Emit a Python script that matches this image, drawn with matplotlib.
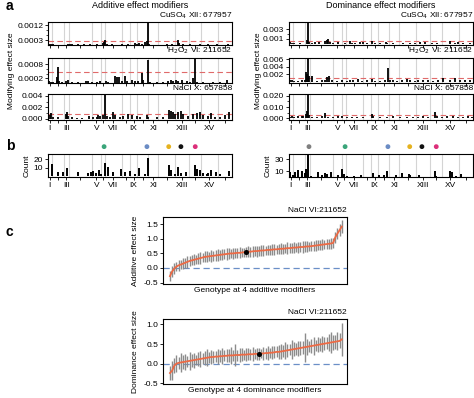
import numpy as np
import matplotlib.pyplot as plt

plt.rcParams['font.family'] = ['Liberation Sans', 'DejaVu Sans']
plt.rcParams['font.size'] = 6
plt.rcParams['axes.linewidth'] = 0.8

# yeast chromosome lengths (kb)
CHR_LEN = [230, 813, 317, 1532, 577, 270, 1091, 563, 440, 746, 667, 1078, 924, 784, 1091, 948]
CHR_NAMES = ['I', 'II', 'III', 'IV', 'V', 'VI', 'VII', 'VIII', 'IX', 'X',
             'XI', 'XII', 'XIII', 'XIV', 'XV', 'XVI']

# ---- panel a: modifier effect sizes along the genome (position in Mb) ----
add_cuso4_pos = [0.09, 0.17, 0.35, 0.90, 1.33, 1.44, 1.55, 1.99, 2.36, 2.76, 3.19, 3.41, 3.59, 3.67,
                 3.74, 3.85, 4.18, 4.51, 4.83, 5.27, 5.71, 5.82, 5.99, 6.15, 6.39, 6.47, 6.54, 6.65,
                 6.80, 7.35, 7.79, 8.11, 8.51, 8.62, 8.88, 9.32, 9.97, 10.52, 11.07, 11.50, 11.83]
add_cuso4_h = [0.00008, 0.00005, 0.00004, 0.00003, 0.00008, 0.00006, 0.00004, 0.00005, 0.00007,
               0.00004, 0.00004, 0.00003, 0.00012, 0.00018, 0.00032, 0.00008, 0.00004, 0.00003,
               0.00005, 0.00004, 0.00010, 0.00007, 0.00012, 0.00004, 0.00018, 0.00025, 0.00135,
               0.00004, 0.00003, 0.00003, 0.00004, 0.00005, 0.00030, 0.00010, 0.00004, 0.00005,
               0.00004, 0.00005, 0.00004, 0.00003, 0.00005]

add_h2o2_pos = [0.09, 0.17, 0.35, 0.57, 0.61, 0.68, 0.74, 0.90, 1.18, 1.33, 1.55, 1.99, 2.49, 2.65,
                2.86, 3.19, 3.41, 3.81, 3.96, 4.40, 4.51, 4.68, 4.83, 5.05, 5.16, 5.49, 5.71, 5.93,
                6.19, 6.25, 6.54, 6.69, 7.13, 7.57, 7.90, 8.05, 8.22, 8.40, 8.55, 8.77, 9.10, 9.32,
                9.54, 9.64, 9.75, 10.19, 10.85, 11.28, 11.72]
add_h2o2_h = [0.00010, 0.00005, 0.00004, 0.00010, 0.00025, 0.00070, 0.00010, 0.00003, 0.00010,
              0.00015, 0.00005, 0.00004, 0.00010, 0.00008, 0.00006, 0.00005, 0.00010, 0.00010,
              0.00006, 0.00030, 0.00025, 0.00028, 0.00010, 0.00030, 0.00008, 0.00015, 0.00010,
              0.00010, 0.00042, 0.00015, 0.00098, 0.00005, 0.00005, 0.00004, 0.00010, 0.00012,
              0.00010, 0.00015, 0.00010, 0.00012, 0.00010, 0.00005, 0.00020, 0.00108, 0.00005,
              0.00004, 0.00006, 0.00004, 0.00012]

add_nacl_pos = [0.13, 0.20, 0.31, 0.68, 1.18, 1.22, 1.33, 1.55, 1.88, 2.21, 2.71, 2.93, 3.19, 3.30,
                3.41, 3.63, 3.74, 3.85, 4.07, 4.24, 4.40, 4.72, 4.94, 5.27, 5.49, 5.82, 6.04, 6.47,
                6.58, 7.13, 7.57, 7.92, 8.05, 8.18, 8.33, 8.55, 8.70, 8.88, 9.21, 9.49, 9.75, 9.97,
                10.19, 10.52, 10.69, 10.96, 11.28, 11.61, 11.88]
add_nacl_h = [0.0006, 0.0010, 0.0004, 0.0003, 0.0008, 0.0012, 0.0005, 0.0003, 0.0002, 0.0002,
              0.0005, 0.0003, 0.0004, 0.0006, 0.0005, 0.0006, 0.0043, 0.0005, 0.0003, 0.0011,
              0.0006, 0.0004, 0.0005, 0.0008, 0.0006, 0.0005, 0.0003, 0.0007, 0.0004, 0.0003,
              0.0004, 0.0015, 0.0013, 0.0011, 0.0009, 0.0011, 0.0014, 0.0008, 0.0005, 0.0008,
              0.0010, 0.0011, 0.0006, 0.0005, 0.0010, 0.0004, 0.0003, 0.0007, 0.0011]

dom_cuso4_pos = [0.07, 0.17, 0.33, 0.72, 1.16, 1.22, 1.33, 1.49, 1.71, 1.99, 2.36, 2.47, 2.58, 2.69,
                 2.91, 3.24, 3.67, 4.00, 4.11, 4.33, 4.66, 4.88, 5.10, 5.42, 5.64, 5.97, 6.36, 6.45,
                 6.85, 7.50, 7.94, 8.27, 8.59, 8.92, 9.36, 9.69, 10.56, 10.89, 11.11, 11.44, 11.88]
dom_cuso4_h = [0.0003, 0.0002, 0.0001, 0.0002, 0.0008, 0.0045, 0.0003, 0.0002, 0.0003, 0.0004,
               0.0005, 0.0008, 0.0010, 0.0003, 0.0002, 0.0003, 0.0002, 0.0005, 0.0002, 0.0002,
               0.0003, 0.0004, 0.0002, 0.0005, 0.0002, 0.0002, 0.0004, 0.0002, 0.0002, 0.0002,
               0.0002, 0.0002, 0.0003, 0.0003, 0.0002, 0.0002, 0.0005, 0.0002, 0.0003, 0.0002,
               0.0002]

dom_h2o2_pos = [0.07, 0.17, 0.33, 0.61, 0.83, 1.05, 1.12, 1.16, 1.22, 1.33, 1.49, 1.82, 2.14, 2.36,
                2.52, 2.65, 2.80, 3.13, 3.46, 3.78, 4.00, 4.22, 4.55, 4.77, 5.10, 5.42, 5.64, 5.97,
                6.30, 6.47, 6.63, 6.85, 7.06, 7.39, 7.72, 7.94, 8.27, 8.49, 8.81, 9.14, 9.47, 9.80,
                10.13, 10.56, 10.89, 11.22, 11.55, 11.88]
dom_h2o2_h = [0.0006, 0.0004, 0.0003, 0.0003, 0.0005, 0.0006, 0.0025, 0.0022, 0.0063, 0.0015,
              0.0015, 0.0003, 0.0004, 0.0005, 0.0013, 0.0015, 0.0006, 0.0003, 0.0004, 0.0003,
              0.0006, 0.0005, 0.0008, 0.0003, 0.0004, 0.0008, 0.0003, 0.0003, 0.0004, 0.0036,
              0.0004, 0.0006, 0.0003, 0.0005, 0.0007, 0.0004, 0.0003, 0.0005, 0.0006, 0.0004,
              0.0003, 0.0005, 0.0009, 0.0006, 0.0011, 0.0004, 0.0006, 0.0004]

dom_nacl_pos = [0.07, 0.17, 0.33, 0.61, 0.83, 0.94, 1.12, 1.16, 1.22, 1.33, 1.49, 1.82, 2.14, 2.36,
                2.58, 2.91, 3.24, 3.46, 3.78, 4.11, 4.44, 4.88, 5.42, 5.53, 5.97, 6.41, 6.85, 7.28,
                7.72, 8.16, 8.49, 8.81, 9.14, 9.58, 9.69, 10.02, 10.34, 10.78, 11.11, 11.44, 11.77,
                11.98]
dom_nacl_h = [0.0010, 0.0015, 0.0010, 0.0020, 0.0015, 0.0020, 0.0040, 0.0060, 0.0218, 0.0030,
              0.0010, 0.0010, 0.0015, 0.0050, 0.0010, 0.0008, 0.0015, 0.0020, 0.0010, 0.0008,
              0.0012, 0.0008, 0.0040, 0.0015, 0.0008, 0.0012, 0.0015, 0.0008, 0.0012, 0.0008,
              0.0010, 0.0015, 0.0010, 0.0055, 0.0020, 0.0010, 0.0015, 0.0020, 0.0010, 0.0012,
              0.0018, 0.0008]

thr_add = [0.00026, 0.00047, 0.00077]
thr_dom = [0.00056, 0.0011, 0.0024]

titles = ['CuSO$_4$ XII: 677957', 'H$_2$O$_2$ VI: 211652', 'NaCl X: 657858']

# ---- panel b: modifier counts ----
cnt_add_pos = [0.24, 0.68, 1.01, 1.22, 1.99, 2.65, 2.80, 2.93, 3.15, 3.32, 3.48, 3.74, 3.91, 4.24,
               4.77, 5.05, 5.38, 5.71, 5.99, 6.37, 6.54, 7.94, 8.07, 8.35, 8.55, 8.73, 9.05, 9.62,
               9.80, 9.97, 10.15, 10.41, 10.52, 10.69, 11.02, 11.28, 11.90]
cnt_add = [14, 5, 4, 9, 5, 3, 5, 6, 3, 7, 2, 16, 11, 4, 8, 5, 6, 2, 9, 2, 22, 13, 7, 2, 11, 3, 4,
           13, 8, 7, 3, 2, 3, 7, 5, 2, 6]
cnt_dom_pos = [0.09, 0.26, 0.42, 0.59, 0.88, 1.03, 1.14, 1.25, 1.42, 1.90, 2.19, 2.34, 2.52, 2.74,
               3.21, 3.46, 3.61, 3.81, 4.26, 4.70, 5.51, 5.90, 6.21, 6.46, 7.05, 7.44, 7.87, 7.96,
               8.53, 9.56, 9.67, 10.54, 10.72, 10.98, 11.26]
cnt_dom = [8, 3, 8, 12, 11, 7, 13, 37, 2, 8, 3, 6, 5, 8, 3, 13, 5, 2, 2, 3, 7, 3, 4, 10, 3, 6, 5,
           3, 3, 10, 2, 10, 9, 2, 5]

# QTL positions (Mb) marked above panel b
qtl_add_pos = [3.68, 6.49, 7.92, 8.72, 9.66]
qtl_add_col = ['#3aa57a', '#6b8cc4', '#e5b21f', '#111111', '#dc2f7a']
qtl_dom_pos = [1.31, 3.68, 6.49, 7.92, 8.72, 9.66]
qtl_dom_col = ['#7f7f7f', '#3aa57a', '#6b8cc4', '#e5b21f', '#111111', '#dc2f7a']

# ---- panel c: effect of NaCl VI:211652 by modifier genotype ----
add_mean = [-0.28, -0.12, -0.02, 0.05, 0.09, 0.12, 0.15, 0.18, 0.21, 0.24,
            0.26, 0.28, 0.30, 0.32, 0.34, 0.36, 0.38, 0.39, 0.40, 0.41,
            0.42, 0.43, 0.44, 0.45, 0.46, 0.47, 0.48, 0.49, 0.50, 0.50,
            0.51, 0.52, 0.52, 0.53, 0.54, 0.55, 0.56, 0.56, 0.57, 0.58,
            0.58, 0.59, 0.60, 0.60, 0.61, 0.62, 0.62, 0.63, 0.64, 0.64,
            0.65, 0.66, 0.66, 0.67, 0.68, 0.68, 0.69, 0.70, 0.70, 0.71,
            0.72, 0.72, 0.73, 0.74, 0.74, 0.75, 0.76, 0.77, 0.78, 0.79,
            0.80, 0.81, 0.82, 0.83, 0.84, 0.86, 1.05, 1.18, 1.30, 1.42]
add_err = [0.18, 0.20, 0.19, 0.17, 0.18, 0.16, 0.19, 0.17, 0.20, 0.18,
           0.17, 0.19, 0.16, 0.18, 0.20, 0.17, 0.19, 0.18, 0.16, 0.19,
           0.17, 0.18, 0.20, 0.16, 0.18, 0.17, 0.19, 0.18, 0.16, 0.20,
           0.17, 0.18, 0.19, 0.17, 0.16, 0.18, 0.20, 0.17, 0.18, 0.16,
           0.19, 0.17, 0.18, 0.20, 0.16, 0.18, 0.17, 0.19, 0.18, 0.16,
           0.17, 0.19, 0.18, 0.16, 0.20, 0.17, 0.18, 0.19, 0.16, 0.18,
           0.17, 0.19, 0.18, 0.20, 0.16, 0.18, 0.17, 0.19, 0.18, 0.17,
           0.19, 0.16, 0.18, 0.17, 0.20, 0.18, 0.19, 0.20, 0.21, 0.22]
add_ref = 35

dom_mean = [-0.24, -0.18, -0.05, 0.00, 0.02, 0.03, 0.04, 0.05, 0.06, 0.07,
            0.08, 0.09, 0.10, 0.11, 0.12, 0.13, 0.14, 0.15, 0.16, 0.17,
            0.17, 0.18, 0.18, 0.19, 0.19, 0.20, 0.20, 0.21, 0.21, 0.21,
            0.22, 0.22, 0.22, 0.23, 0.23, 0.23, 0.24, 0.24, 0.24, 0.25,
            0.25, 0.25, 0.26, 0.26, 0.27, 0.27, 0.28, 0.28, 0.29, 0.30,
            0.30, 0.31, 0.32, 0.33, 0.34, 0.35, 0.36, 0.37, 0.38, 0.39,
            0.40, 0.41, 0.42, 0.43, 0.44, 0.45, 0.46, 0.47, 0.48, 0.49,
            0.50, 0.51, 0.52, 0.53, 0.54, 0.55, 0.56, 0.57, 0.58, 0.62]
dom_err = [0.17, 0.25, 0.20, 0.22, 0.15, 0.24, 0.17, 0.20, 0.14, 0.23,
           0.16, 0.19, 0.13, 0.18, 0.20, 0.15, 0.17, 0.22, 0.14, 0.18,
           0.16, 0.13, 0.19, 0.15, 0.21, 0.14, 0.17, 0.16, 0.22, 0.15,
           0.27, 0.14, 0.18, 0.16, 0.13, 0.17, 0.15, 0.14, 0.18, 0.13,
           0.16, 0.15, 0.12, 0.17, 0.14, 0.18, 0.13, 0.16, 0.15, 0.14,
           0.17, 0.19, 0.15, 0.22, 0.16, 0.14, 0.25, 0.18, 0.15, 0.20,
           0.17, 0.16, 0.37, 0.21, 0.15, 0.18, 0.23, 0.14, 0.19, 0.16,
           0.20, 0.17, 0.15, 0.22, 0.28, 0.19, 0.18, 0.23, 0.19, 0.42]
dom_ref = 41

W, H = 474, 398
fig = plt.figure(figsize=(W / 100, H / 100), dpi=100)


def px_axes(x0, y0, x1, y1):
    return fig.add_axes([x0 / W, 1 - y1 / H, (x1 - x0) / W, (y1 - y0) / H])


bounds = np.cumsum([0] + CHR_LEN) / 1000.0
centers = (bounds[:-1] + bounds[1:]) / 2
genome_end = bounds[-1]
xlabels = [n if i % 2 == 0 else '' for i, n in enumerate(CHR_NAMES)]


def genome_axes(ax, show_labels):
    ax.set_xlim(0, genome_end)
    for b in bounds[1:-1]:
        ax.axvline(b, color='#d4d4d4', lw=0.8, zorder=0)
    ax.set_xticks(centers)
    ax.set_xticklabels(xlabels if show_labels else [])
    ax.tick_params(length=2, width=0.6, pad=1.5, labelsize=6)
    ax.tick_params(which='minor', length=1.2, width=0.5)


# ---- a ----
rows = [(22, 45), (58, 83), (94, 120)]
add_data = [(add_cuso4_pos, add_cuso4_h), (add_h2o2_pos, add_h2o2_h), (add_nacl_pos, add_nacl_h)]
dom_data = [(dom_cuso4_pos, dom_cuso4_h), (dom_h2o2_pos, dom_h2o2_h), (dom_nacl_pos, dom_nacl_h)]
add_ylim = [(0, 0.0014), (0, 0.00108), (-0.0002, 0.0043)]
dom_ylim = [(-0.0003, 0.0045), (-0.0003, 0.0063), (-0.0018, 0.0218)]
add_ticks = [([0.0003, 0.0012], ['0.0003', '0.0012'], [0.0006, 0.0009]),
             ([0.0002, 0.0008], ['0.0002', '0.0008'], [0.0004, 0.0006]),
             ([0.0, 0.002, 0.004], ['0.000', '0.002', '0.004'], [0.001, 0.003])]
dom_ticks = [([0.001, 0.003], ['0.001', '0.003'], [0.002]),
             ([0.002, 0.004, 0.006], ['0.002', '0.004', '0.006'], []),
             ([0.0, 0.01, 0.02], ['0.000', '0.010', '0.020'], [0.005, 0.015])]

for x0, x1, data, ylims, ticks, thr in [
        (48, 232, add_data, add_ylim, add_ticks, thr_add),
        (289, 473, dom_data, dom_ylim, dom_ticks, thr_dom)]:
    for r, (y0, y1) in enumerate(rows):
        ax = px_axes(x0, y0, x1, y1)
        pos, h = data[r]
        ax.vlines(pos, 0, h, color='black', lw=1.3, zorder=3)
        ax.axhline(thr[r], color='#e06a6a', lw=0.8, ls=(0, (5, 3)), zorder=2)
        genome_axes(ax, r == 2)
        ax.set_ylim(*ylims[r])
        ax.set_yticks(ticks[r][0])
        ax.set_yticklabels(ticks[r][1])
        ax.set_yticks(ticks[r][2], minor=True)
        ax.text(1.0, 1.06, titles[r], transform=ax.transAxes, ha='right', va='bottom', fontsize=6)

fig.text(140 / W, 1 - 6 / H, 'Additive effect modifiers', ha='center', va='center', fontsize=6.5)
fig.text(381 / W, 1 - 6 / H, 'Dominance effect modifiers', ha='center', va='center', fontsize=6.5)
fig.text(12 / W, 1 - 71 / H, 'Modifying effect size', rotation=90, ha='center', va='center', fontsize=6)
fig.text(258 / W, 1 - 71 / H, 'Modifying effect size', rotation=90, ha='center', va='center', fontsize=6)

# ---- b ----
for x0, x1, pos, cnt, ylim, yt, qpos, qcol in [
        (48, 232, cnt_add_pos, cnt_add, (-1.5, 26.5), [10, 20], qtl_add_pos, qtl_add_col),
        (289, 473, cnt_dom_pos, cnt_dom, (0, 39), [10, 30], qtl_dom_pos, qtl_dom_col)]:
    ax = px_axes(x0, 154, x1, 177)
    ax.vlines(pos, 0, cnt, color='black', lw=1.4, zorder=3)
    genome_axes(ax, True)
    ax.set_ylim(*ylim)
    ax.set_yticks(yt)
    ax.set_ylabel('Count', fontsize=6, labelpad=2)
    ax.scatter(qpos, [ylim[1] + (ylim[1] - ylim[0]) * 0.32] * len(qpos), s=12, c=qcol,
               clip_on=False, zorder=4, linewidths=0)

# ---- c ----
for y0, y1, mean, err, ref, ylim, yt, ylab, xlab in [
        (217, 284, add_mean, add_err, add_ref, (-0.55, 1.75),
         [-0.5, 0.0, 0.5, 1.0, 1.5], 'Additive effect size', 'Genotype at 4 additive modifiers'),
        (319, 384, dom_mean, dom_err, dom_ref, (-0.52, 1.14),
         [-0.5, 0.0, 0.5, 1.0], 'Dominance effect size', 'Genotype at 4 dominance modifiers')]:
    ax = px_axes(163, y0, 347, y1)
    idx = np.arange(len(mean))
    ax.axhline(0, color='#6b8fc7', lw=0.9, ls=(0, (5, 3)), zorder=1)
    ax.errorbar(idx, mean, yerr=err, fmt='none', ecolor='#8c8c8c', elinewidth=1.0, zorder=2)
    ax.plot(idx, mean, color='#ec6a45', lw=1.3, zorder=3)
    ax.plot([idx[ref]], [mean[ref]], 'o', color='black', ms=2.6, zorder=4)
    ax.set_xlim(-3.2, len(mean) + 1.4)
    ax.set_ylim(*ylim)
    ax.set_xticks([])
    ax.set_yticks(yt)
    ax.set_yticklabels([f'{v:.1f}' for v in yt])
    ax.tick_params(length=2, width=0.6, pad=1.5, labelsize=6)
    ax.set_ylabel(ylab, fontsize=6, labelpad=3)
    ax.set_xlabel(xlab, fontsize=6, labelpad=2)
    ax.text(1.0, 1.04, 'NaCl VI:211652', transform=ax.transAxes, ha='right', va='bottom', fontsize=6)

for label, x, y in [('a', 6, 6), ('b', 6, 146), ('c', 6, 232)]:
    fig.text(x / W, 1 - y / H, label, fontsize=10, fontweight='bold', ha='left', va='center')

fig.savefig('out.png', dpi=100)
